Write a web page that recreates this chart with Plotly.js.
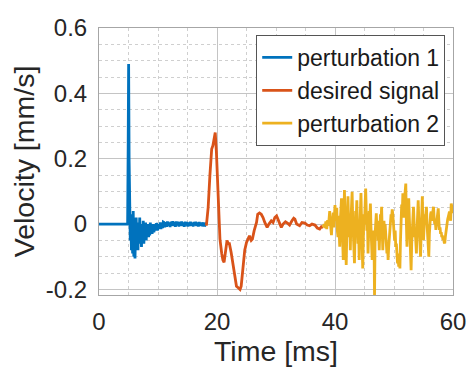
<!DOCTYPE html>
<html>
<head>
<meta charset="utf-8">
<script src="https://cdn.plot.ly/plotly-3.0.1.min.js"></script>
<style>html,body{margin:0;padding:0;background:#fff;}#chart{width:474px;height:375px;}</style>
</head>
<body>
<div id="chart"></div>
<script>
const seriesNames = ["perturbation 1", "desired signal", "perturbation 2"];
const seriesColors = ["#0072BD", "#D95319", "#EDB120"];

const p1X = [0, 4.85, 4.95, 5.02, 5.1, 5.2, 5.3, 5.4, 5.5, 5.6, 5.7, 5.8, 5.9, 6.0, 6.1, 6.2, 6.3, 6.4, 6.5, 6.6, 6.7, 6.8, 6.9, 7.0, 7.1, 7.2, 7.3, 7.4, 7.5, 7.6, 7.7, 7.8, 7.9, 8.0, 8.1, 8.2, 8.3, 8.4, 8.5, 8.6, 8.7, 8.8, 8.9, 9.0, 9.1, 9.2, 9.3, 9.4, 9.5, 9.6, 9.7, 9.8, 9.9, 10.0, 10.1, 10.2, 10.3, 10.4, 10.5, 10.6, 10.7, 10.8, 10.9, 11.0, 11.15, 11.3, 11.45, 11.6, 11.75, 11.9, 12.05, 12.2, 12.35, 12.5, 12.65, 12.8, 12.95, 13.1, 13.25, 13.4, 13.55, 13.7, 13.85, 14.0, 14.15, 14.3, 14.45, 14.6, 14.75, 14.9, 15.05, 15.2, 15.35, 15.5, 15.65, 15.8, 15.95, 16.1, 16.25, 16.4, 16.55, 16.7, 16.85, 17.0, 17.15, 17.3, 17.45, 17.6, 17.75, 17.9, 18.05, 18.2];
const p1Y = [0, 0, 0.25, 0.49, 0.2, 0.02, -0.05, 0.03, -0.08, -0.01, -0.09, 0.04, -0.1, -0.04, -0.105, -0.02, 0.02, -0.06, -0.02, -0.08, 0.005, -0.06, 0.02, -0.05, -0.02, -0.07, 0.0, -0.05, 0.01, -0.06, -0.015, -0.045, 0.005, -0.05, -0.01, -0.04, 0.0, -0.04, -0.01, -0.035, 0.005, -0.03, -0.005, -0.03, -0.01, 0.0, -0.025, -0.008, -0.005, -0.02, 0.002, 0.0, -0.02, -0.004, 0.0, -0.015, 0.004, 0.005, -0.015, -0.002, 0.003, -0.012, 0.006, 0.005, -0.01, 0.006, -0.008, 0.008, -0.006, 0.005, -0.009, 0.007, -0.005, 0.009, -0.006, 0.006, -0.008, 0.008, -0.004, 0.007, -0.007, 0.006, -0.005, 0.008, -0.006, 0.005, -0.008, 0.007, -0.004, 0.006, -0.007, 0.005, -0.006, 0.007, -0.005, 0.004, -0.007, 0.006, -0.004, 0.007, -0.006, 0.005, -0.007, 0.006, -0.005, 0.004, -0.006, 0.005, -0.007, 0.004, -0.004, -0.005];

const dsX = [18.2, 18.5, 18.8, 19.1, 19.3, 19.5, 19.7, 19.9, 20.2, 20.5, 20.8, 21.0, 21.2, 21.5, 21.7, 21.9, 22.1, 22.4, 22.7, 23.0, 23.3, 23.6, 23.9, 24.1, 24.4, 24.7, 25.0, 25.3, 25.5, 25.8, 26.0, 26.3, 26.7, 26.9, 27.2, 27.5, 27.8, 28.1, 28.5, 28.8, 29.2, 29.5, 29.8, 30.1, 30.4, 30.7, 30.9, 31.2, 31.6, 32.0, 32.3, 32.7, 33.0, 33.2, 33.5, 34.0, 34.4, 34.9, 35.3, 35.7, 36.1, 36.6, 37.0, 37.4, 37.7, 38.0];
const dsY = [-0.005, 0.05, 0.15, 0.23, 0.24, 0.26, 0.28, 0.22, 0.08, -0.046, -0.09, -0.11, -0.117, -0.07, -0.05, -0.06, -0.06, -0.087, -0.12, -0.158, -0.19, -0.195, -0.2, -0.19, -0.128, -0.08, -0.056, -0.04, -0.036, -0.05, -0.046, -0.02, 0.005, 0.03, 0.034, 0.03, 0.02, 0.005, -0.01, 0.0, 0.01, 0.005, 0.02, 0.025, 0.01, -0.005, -0.01, 0.0, 0.007, 0.002, -0.003, 0.01, 0.018, 0.015, 0.0, -0.005, 0.005, 0.003, -0.003, -0.005, 0.0, -0.003, -0.012, -0.015, -0.008, -0.01];

const p2X = [38.0, 38.15, 38.3, 38.45, 38.6, 38.75, 38.9, 39.0, 39.1, 39.2, 39.3, 39.4, 39.5, 39.6, 39.7, 39.8, 39.9, 40.0, 40.1, 40.2, 40.3, 40.4, 40.5, 40.6, 40.7, 40.8, 40.9, 41.0, 41.1, 41.2, 41.3, 41.4, 41.5, 41.6, 41.7, 41.8, 41.9, 42.0, 42.1, 42.2, 42.3, 42.4, 42.5, 42.6, 42.7, 42.8, 42.9, 43.0, 43.1, 43.2, 43.3, 43.4, 43.5, 43.6, 43.7, 43.8, 43.9, 44.0, 44.1, 44.2, 44.3, 44.4, 44.5, 44.6, 44.7, 44.8, 44.9, 45.0, 45.1, 45.2, 45.3, 45.4, 45.5, 45.6, 45.7, 45.8, 45.9, 46.0, 46.1, 46.2, 46.3, 46.4, 46.5, 46.6, 46.7, 46.8, 46.9, 47.0, 47.1, 47.2, 47.3, 47.4, 47.5, 47.6, 47.7, 47.8, 47.9, 48.0, 48.1, 48.2, 48.3, 48.4, 48.5, 48.6, 48.7, 48.8, 48.9, 49.0, 49.1, 49.2, 49.3, 49.4, 49.5, 49.6, 49.7, 49.8, 49.9, 50.0, 50.1, 50.2, 50.3, 50.4, 50.5, 50.6, 50.7, 50.8, 50.9, 51.0, 51.1, 51.2, 51.3, 51.4, 51.5, 51.6, 51.7, 51.8, 51.9, 52.0, 52.1, 52.2, 52.3, 52.4, 52.5, 52.6, 52.7, 52.8, 52.9, 53.0, 53.1, 53.2, 53.3, 53.4, 53.5, 53.6, 53.7, 53.8, 53.9, 54.0, 54.1, 54.2, 54.3, 54.4, 54.5, 54.6, 54.7, 54.8, 54.9, 55.0, 55.1, 55.2, 55.3, 55.4, 55.5, 55.6, 55.7, 55.8, 55.9, 56.0, 56.1, 56.2, 56.3, 56.4, 56.5, 56.6, 56.7, 56.8, 56.9, 57.0, 57.1, 57.2, 57.3, 57.4, 57.5, 57.6, 57.7, 57.8, 57.9, 58.0, 58.1, 58.2, 58.3, 58.4, 58.5, 58.6, 58.7, 58.8, 58.9, 59.0, 59.1, 59.2, 59.3, 59.4, 59.5, 59.6, 59.7, 59.8, 59.9, 60.0];
const p2Y = [-0.01, 0.0, -0.012, 0.008, -0.015, 0.012, -0.005, 0.025, 0.04, 0.005, -0.02, -0.034, 0.0, 0.02, 0.035, -0.01, 0.03, 0.058, 0.01, 0.04, 0.05, -0.02, -0.04, 0.025, -0.03, -0.069, 0.01, 0.06, 0.079, 0.0, -0.07, -0.11, 0.0, 0.104, 0.03, -0.08, -0.125, -0.03, 0.06, 0.085, 0.01, -0.04, 0.01, -0.08, 0.01, 0.07, 0.099, 0.02, -0.06, -0.1, -0.12, -0.03, 0.04, 0.02, 0.073, 0.0, -0.06, -0.02, -0.11, -0.02, 0.06, 0.095, 0.01, -0.08, -0.136, -0.05, 0.03, 0.0, 0.07, 0.109, 0.04, -0.02, 0.01, -0.09, -0.03, 0.04, 0.02, 0.063, -0.01, -0.07, -0.11, -0.04, -0.06, -0.02, -0.222, -0.03, 0.02, 0.033, -0.01, 0.01, -0.05, -0.02, -0.08, -0.01, 0.03, 0.01, 0.053, -0.02, -0.08, -0.03, 0.01, -0.02, 0.0, -0.03, -0.07, -0.09, -0.06, -0.11, -0.07, -0.04, -0.01, 0.01, 0.03, 0.02, 0.045, 0.03, 0.0, -0.03, -0.05, -0.02, -0.07, -0.06, -0.09, -0.12, -0.1, -0.13, -0.09, -0.136, -0.05, 0.02, 0.06, 0.03, 0.094, 0.05, 0.02, 0.08, 0.1, 0.124, 0.0, -0.069, -0.01, 0.05, 0.079, 0.02, -0.04, -0.1, -0.141, -0.06, 0.0, 0.03, 0.053, 0.01, -0.04, -0.02, -0.07, -0.09, -0.02, 0.04, 0.073, 0.02, -0.03, -0.07, -0.1, -0.03, 0.05, 0.085, 0.0, -0.049, -0.01, 0.03, 0.01, 0.05, 0.053, 0.0, -0.04, -0.07, -0.1, -0.03, 0.01, 0.03, 0.038, 0.02, 0.01, 0.04, 0.053, 0.02, 0.0, 0.01, -0.018, 0.0, 0.025, 0.04, 0.048, 0.01, -0.018, -0.01, -0.03, -0.025, -0.04, -0.035, -0.049, -0.04, -0.055, -0.059, -0.04, -0.03, -0.01, 0.002, 0.015, 0.02, 0.03, 0.038, 0.02, 0.01, 0.063, 0.05, 0.04, 0.033];

const xTickVals = [0, 20, 40, 60];
const xTickText = ["0", "20", "40", "60"];
const yTickVals = [-0.2, 0, 0.2, 0.4, 0.6];
const yTickText = ["-0.2", "0", "0.2", "0.4", "0.6"];
const xTitle = "Time [ms]";
const yTitle = "Velocity [mm/s]";

const xs = [p1X, dsX, p2X];
const ys = [p1Y, dsY, p2Y];
const traces = seriesNames.map((n, i) => ({
  x: xs[i], y: ys[i], name: n, type: 'scatter', mode: 'lines',
  line: {color: seriesColors[i], width: 2.8}
}));

const FONT = 'Liberation Sans, Arial, sans-serif';
const layout = {
  width: 474, height: 375,
  margin: {l: 99, r: 21, t: 28, b: 80},
  paper_bgcolor: '#fff', plot_bgcolor: '#fff',
  font: {family: FONT, color: '#262626'},
  showlegend: true,
  legend: {
    x: 0.978, y: 0.974, xanchor: 'right', yanchor: 'top',
    bgcolor: '#fff', bordercolor: '#555', borderwidth: 1,
    font: {family: FONT, size: 23, color: '#1a1a1a'},
    tracegroupgap: 0, itemwidth: 30
  },
  xaxis: {
    range: [0, 60], tickvals: xTickVals, ticktext: xTickText,
    ticks: '', tickfont: {family: FONT, size: 24, color: '#262626'},
    showgrid: true, gridcolor: '#c4c4c4', gridwidth: 1,
    minor: {dtick: 5, tick0: 0, showgrid: true, gridcolor: '#cfcfcf', griddash: 'dot', gridwidth: 1},
    zeroline: false, showline: true, mirror: true, linecolor: '#a6a6a6', linewidth: 1,
    ticklabelstandoff: 5,
    title: {text: xTitle, font: {family: FONT, size: 28.5, color: '#262626'}, standoff: 4},
    automargin: false
  },
  yaxis: {
    range: [-0.217, 0.6], tickvals: yTickVals, ticktext: yTickText,
    ticks: '', tickfont: {family: FONT, size: 24, color: '#262626'},
    showgrid: true, gridcolor: '#c4c4c4', gridwidth: 1,
    minor: {dtick: 0.05, tick0: 0, showgrid: true, gridcolor: '#cfcfcf', griddash: 'dot', gridwidth: 1},
    zeroline: false, showline: true, mirror: true, linecolor: '#a6a6a6', linewidth: 1,
    ticklabelstandoff: 6,
    title: {text: yTitle, font: {family: FONT, size: 28.5, color: '#262626'}, standoff: 2},
    automargin: false
  }
};
Plotly.newPlot('chart', traces, layout, {displayModeBar: false, staticPlot: true});
</script>
</body>
</html>
